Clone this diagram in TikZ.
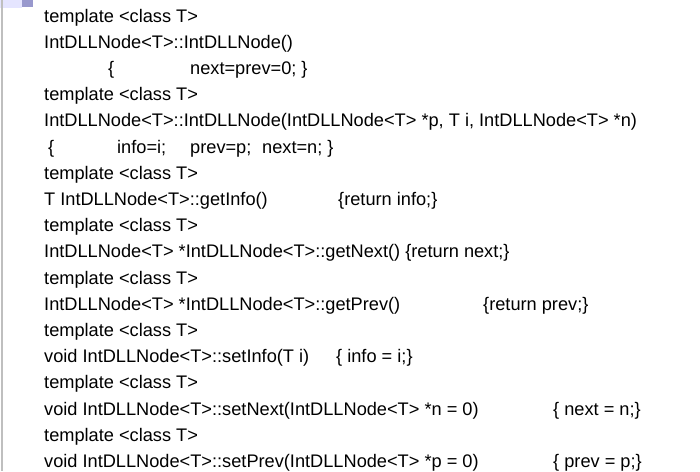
\documentclass[tikz,border=0pt]{standalone}
\usepackage{fontspec}
\setmainfont{Liberation Sans}
\begin{document}
\begin{tikzpicture}[x=1pt,y=-1pt,
  t/.style={anchor=base west,inner sep=0pt,font=\fontsize{18.2}{20}\selectfont}]
\useasboundingbox (0,0) rectangle (700,471);
\fill[white] (0,0) rectangle (700,471);
\fill[blue!10] (0,0) rectangle (22,8);
\fill[blue!35!gray!60] (22,0) rectangle (33,7);
\draw[gray!50,line width=1.2pt] (2,0) -- (2,471);
\def\L#1{22+26.2*#1}
\node[t] (l0) at (44,{\L0}) {template <class T>};
\node[t] (l1) at (44,{\L1}) {IntDLLNode<T>::IntDLLNode()};
\node[t] (l2a) at (108,{\L2}) {\{};
\node[t] (l2b) at (190,{\L2}) {next=prev=0; \}};
\node[t] (l3) at (44,{\L3}) {template <class T>};
\node[t] (l4) at (44,{\L4}) {IntDLLNode<T>::IntDLLNode(IntDLLNode<T> *p, T i, IntDLLNode<T> *n)};
\node[t] (l5a) at (48,{\L5}) {\{};
\node[t] (l5b) at (117,{\L5}) {info=i;};
\node[t] (l5c) at (190,{\L5}) {prev=p;};
\node[t] (l5d) at (262,{\L5}) {next=n; \}};
\node[t] (l6) at (44,{\L6}) {template <class T>};
\node[t] (l7a) at (44,{\L7}) {T IntDLLNode<T>::getInfo()};
\node[t] (l7b) at (338,{\L7}) {\{return info;\}};
\node[t] (l8) at (44,{\L8}) {template <class T>};
\node[t] (l9) at (44,{\L9}) {IntDLLNode<T> *IntDLLNode<T>::getNext() \{return next;\}};
\node[t] (l10) at (44,{\L{10}}) {template <class T>};
\node[t] (l11a) at (44,{\L{11}}) {IntDLLNode<T> *IntDLLNode<T>::getPrev()};
\node[t] (l11b) at (483,{\L{11}}) {\{return prev;\}};
\node[t] (l12) at (44,{\L{12}}) {template <class T>};
\node[t] (l13a) at (44,{\L{13}}) {void IntDLLNode<T>::setInfo(T i)};
\node[t] (l13b) at (336,{\L{13}}) {\{ info = i;\}};
\node[t] (l14) at (44,{\L{14}}) {template <class T>};
\node[t] (l15a) at (44,{\L{15}}) {void IntDLLNode<T>::setNext(IntDLLNode<T> *n = 0)};
\node[t] (l15b) at (553,{\L{15}}) {\{ next = n;\}};
\node[t] (l16) at (44,{\L{16}}) {template <class T>};
\node[t] (l17a) at (44,{\L{17}}) {void IntDLLNode<T>::setPrev(IntDLLNode<T> *p = 0)};
\node[t] (l17b) at (553,{\L{17}}) {\{ prev = p;\}};
\end{tikzpicture}
\end{document}
